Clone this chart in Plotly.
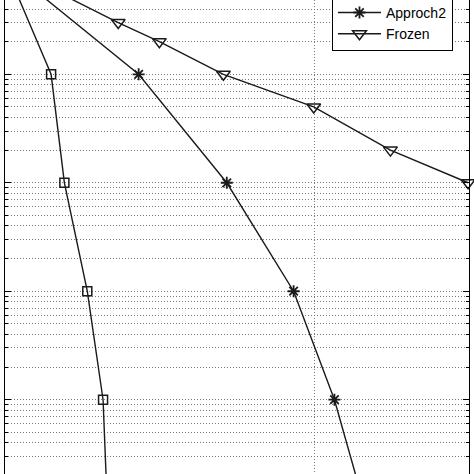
import plotly.graph_objects as go

x_approch1 = [0, 1.49, 1.92, 2.66, 3.17, 3.31]
y_approch1 = [1, 1e-1, 1e-2, 1e-3, 1e-4, 1e-5]

x_approch2 = [0, 4.32, 7.17, 9.33, 10.65, 11.64]
y_approch2 = [1, 1e-1, 1e-2, 1e-3, 1e-4, 1e-5]

x_frozen = [0, 3.66, 4.99, 7.06, 9.98, 12.46, 14.97]
y_frozen = [1, 0.3, 0.2, 0.1, 0.05, 0.02, 0.01]

LINE = dict(color="#1a1a1a", width=1.4)
GRID = "#7a7a7a"
DOTS = "1px,2px"

fig = go.Figure()

fig.add_trace(go.Scatter(
    x=x_approch1, y=y_approch1, name="Approch1", mode="lines+markers",
    line=LINE, cliponaxis=False,
    marker=dict(symbol="square-open", size=9, color="#1a1a1a", line=dict(width=1.5)),
))
fig.add_trace(go.Scatter(
    x=x_approch2, y=y_approch2, name="Approch2", mode="lines+markers",
    line=LINE, cliponaxis=False,
    marker=dict(symbol="asterisk-open", size=10, color="#1a1a1a", line=dict(width=1.8, color="#1a1a1a")),
))
fig.add_trace(go.Scatter(
    x=x_frozen, y=y_frozen, name="Frozen", mode="lines+markers",
    line=LINE, cliponaxis=False,
    marker=dict(symbol="triangle-down-open", size=12, color="#1a1a1a", line=dict(width=1.5)),
))

fig.update_xaxes(
    range=[0, 15], dtick=10,
    showgrid=True, gridcolor=GRID, gridwidth=1, griddash=DOTS,
    showline=False, zeroline=False, ticks="", showticklabels=False,
)
fig.update_yaxes(
    type="log", range=[-4.685, -0.315], dtick=1,
    showline=True, linecolor="black", linewidth=1, mirror="allticks",
    ticks="inside", ticklen=6, tickcolor="black", showticklabels=False,
    showgrid=True, gridcolor=GRID, gridwidth=1, griddash=DOTS,
    minor=dict(dtick="D1", ticks="inside", ticklen=3, tickcolor="black",
               showgrid=True, gridcolor=GRID, gridwidth=1, griddash=DOTS),
)

fig.update_layout(
    width=474, height=474,
    margin=dict(l=5, r=5, t=0, b=0, autoexpand=False),
    paper_bgcolor="white", plot_bgcolor="white",
    font=dict(family="Liberation Sans, Arial, sans-serif", size=14, color="black"),
    legend=dict(
        x=0.9655, xanchor="right", y=0.893, yanchor="bottom",
        bgcolor="white", bordercolor="black", borderwidth=1,
        itemwidth=43, font=dict(size=14),
    ),
)

# page body has an 8px default margin; drop it so the plot fills the window
fig.write_html("out.html", config={"displayModeBar": False},
               post_script="document.body.style.margin='0';")
